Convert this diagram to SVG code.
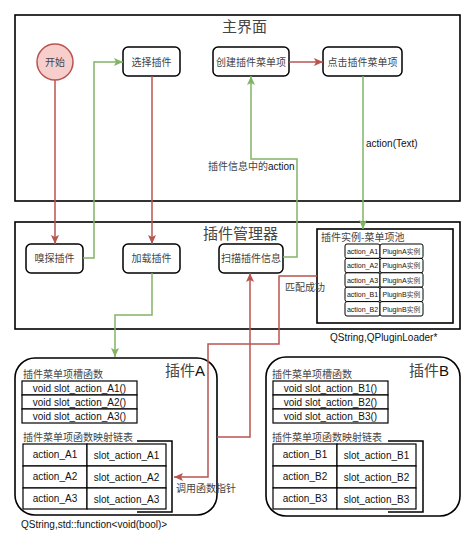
<svg xmlns="http://www.w3.org/2000/svg" width="474" height="545" viewBox="0 0 474 545">
<style>
.frame{fill:#fff;stroke:#000;stroke-width:1.6}
.node{fill:#fff;stroke:#000;stroke-width:1.5}
.cell{fill:#fff;stroke:#000;stroke-width:1.2}
.pcell{fill:#fff;stroke:#000;stroke-width:1}
.cn{font-family:"Noto Sans CJK SC","Noto Sans",sans-serif;fill:#444}
.lt{font-family:"Liberation Sans",Arial,"Noto Sans CJK SC",sans-serif;fill:#111}
.red{fill:none;stroke:#b85450;stroke-width:1.5}
.green{fill:none;stroke:#82b366;stroke-width:1.5}
</style>
<defs>
<marker id="ar" markerUnits="userSpaceOnUse" markerWidth="10" markerHeight="10" viewBox="0 0 10 10" refX="9" refY="5" orient="auto"><path d="M0,1 L9,5 L0,9 L2,5 Z" fill="#b85450"/></marker>
<marker id="ag" markerUnits="userSpaceOnUse" markerWidth="10" markerHeight="10" viewBox="0 0 10 10" refX="9" refY="5" orient="auto"><path d="M0,1 L9,5 L0,9 L2,5 Z" fill="#82b366"/></marker>
</defs>
<rect width="474" height="545" fill="#fff"/>

<g id="main-frame">
<rect class="frame" x="15" y="15" width="445" height="186"/>
<text class="cn" x="244.5" y="32" font-size="15" text-anchor="middle">主界面</text>
</g>
<g id="manager-frame">
<rect class="frame" x="15" y="222" width="445" height="107"/>
<text class="cn" x="240.5" y="239" font-size="15" text-anchor="middle">插件管理器</text>
</g>

<g id="start">
<circle cx="55" cy="62" r="18" fill="#f8cecc" stroke="#b85450" stroke-width="1.5"/>
<text class="cn" x="55" y="65.5" font-size="10" text-anchor="middle">开始</text>
</g>
<g id="select">
<rect class="node" x="123" y="47" width="57" height="29" rx="5"/>
<text class="cn" x="151.5" y="65.5" font-size="10" text-anchor="middle">选择插件</text>
</g>
<g id="create">
<rect class="node" x="213" y="47" width="76" height="29" rx="5"/>
<text class="cn" x="251" y="65.5" font-size="10" text-anchor="middle">创建插件菜单项</text>
</g>
<g id="click">
<rect class="node" x="323" y="47" width="79" height="29" rx="5"/>
<text class="cn" x="362.5" y="65.5" font-size="10" text-anchor="middle">点击插件菜单项</text>
</g>

<g id="sniff">
<rect class="node" x="26" y="244" width="57" height="29" rx="5"/>
<text class="cn" x="54.5" y="262" font-size="10" text-anchor="middle">嗅探插件</text>
</g>
<g id="load">
<rect class="node" x="123" y="244" width="57" height="29" rx="5"/>
<text class="cn" x="151.5" y="262" font-size="10" text-anchor="middle">加载插件</text>
</g>
<g id="scan">
<rect class="node" x="219" y="244" width="64" height="29" rx="5"/>
<text class="cn" x="251" y="262" font-size="10" text-anchor="middle">扫描插件信息</text>
</g>

<g id="pool">
<rect class="frame" x="317" y="229" width="136" height="94"/>
<text class="cn" x="321" y="241" font-size="10">插件实例-菜单项池</text>
<rect class="pcell" x="345" y="244" width="35" height="14.4" rx="2"/><rect class="pcell" x="380" y="244" width="43" height="14.4" rx="2"/>
<rect class="pcell" x="345" y="258.4" width="35" height="14.4" rx="2"/><rect class="pcell" x="380" y="258.4" width="43" height="14.4" rx="2"/>
<rect class="pcell" x="345" y="272.8" width="35" height="14.4" rx="2"/><rect class="pcell" x="380" y="272.8" width="43" height="14.4" rx="2"/>
<rect class="pcell" x="345" y="287.2" width="35" height="14.4" rx="2"/><rect class="pcell" x="380" y="287.2" width="43" height="14.4" rx="2"/>
<rect class="pcell" x="345" y="301.6" width="35" height="14.4" rx="2"/><rect class="pcell" x="380" y="301.6" width="43" height="14.4" rx="2"/>
<g class="lt" font-size="7" text-anchor="middle">
<text x="362.5" y="254">action_A1</text>
<text x="362.5" y="268.4">action_A2</text>
<text x="362.5" y="282.8">action_A3</text>
<text x="362.5" y="297.2">action_B1</text>
<text x="362.5" y="311.6">action_B2</text>
</g>
<g font-size="7">
<text x="382.5" y="254"><tspan class="lt">PluginA</tspan><tspan class="cn" fill="#999" font-size="6.8">实例</tspan></text>
<text x="382.5" y="268.4"><tspan class="lt">PluginA</tspan><tspan class="cn" fill="#999" font-size="6.8">实例</tspan></text>
<text x="382.5" y="282.8"><tspan class="lt">PluginA</tspan><tspan class="cn" fill="#999" font-size="6.8">实例</tspan></text>
<text x="382.5" y="297.2"><tspan class="lt">PluginB</tspan><tspan class="cn" fill="#999" font-size="6.8">实例</tspan></text>
<text x="382.5" y="311.6"><tspan class="lt">PluginB</tspan><tspan class="cn" fill="#999" font-size="6.8">实例</tspan></text>
</g>
</g>

<g id="pluginA">
<rect class="frame" x="15" y="358" width="202" height="157" rx="20"/>
<text x="165" y="376" font-size="15"><tspan class="cn" fill="#333">插件</tspan><tspan class="lt">A</tspan></text>
<text class="cn" x="23" y="378" font-size="10">插件菜单项槽函数</text>
<rect class="cell" x="22" y="381" width="115" height="14"/>
<rect class="cell" x="22" y="395" width="115" height="14"/>
<rect class="cell" x="22" y="409" width="115" height="14"/>
<g class="lt" font-size="10" text-anchor="middle">
<text x="79.5" y="392">void slot_action_A1()</text>
<text x="79.5" y="406">void slot_action_A2()</text>
<text x="79.5" y="420">void slot_action_A3()</text>
</g>
<text class="cn" x="23" y="441" font-size="10">插件菜单项函数映射链表</text>
<path d="M137,441 H172 V512 H137" fill="none" stroke="#000" stroke-width="1.5"/>
<rect class="cell" x="23" y="444" width="64" height="22"/><rect class="cell" x="87" y="444" width="79" height="22"/>
<rect class="cell" x="23" y="466" width="64" height="22"/><rect class="cell" x="87" y="466" width="79" height="22"/>
<rect class="cell" x="23" y="488" width="64" height="21"/><rect class="cell" x="87" y="488" width="79" height="21"/>
<g class="lt" font-size="10" text-anchor="middle">
<text x="55" y="458">action_A1</text><text x="126.5" y="459">slot_action_A1</text>
<text x="55" y="480">action_A2</text><text x="126.5" y="481">slot_action_A2</text>
<text x="55" y="502">action_A3</text><text x="126.5" y="503">slot_action_A3</text>
</g>
</g>

<g id="pluginB">
<rect class="frame" x="266" y="357" width="194" height="159" rx="20"/>
<text x="409" y="376" font-size="15"><tspan class="cn" fill="#333">插件</tspan><tspan class="lt">B</tspan></text>
<text class="cn" x="272" y="378" font-size="10">插件菜单项槽函数</text>
<rect class="cell" x="273" y="381" width="115" height="14"/>
<rect class="cell" x="273" y="395" width="115" height="14"/>
<rect class="cell" x="273" y="409" width="115" height="14"/>
<g class="lt" font-size="10" text-anchor="middle">
<text x="330.5" y="392">void slot_action_B1()</text>
<text x="330.5" y="406">void slot_action_B2()</text>
<text x="330.5" y="420">void slot_action_B3()</text>
</g>
<text class="cn" x="272" y="441" font-size="10">插件菜单项函数映射链表</text>
<path d="M388,441 H423 V512 H388" fill="none" stroke="#000" stroke-width="1.5"/>
<rect class="cell" x="273" y="444" width="64" height="22"/><rect class="cell" x="337" y="444" width="79" height="22"/>
<rect class="cell" x="273" y="466" width="64" height="22"/><rect class="cell" x="337" y="466" width="79" height="22"/>
<rect class="cell" x="273" y="488" width="64" height="21"/><rect class="cell" x="337" y="488" width="79" height="21"/>
<g class="lt" font-size="10" text-anchor="middle">
<text x="305" y="458">action_B1</text><text x="376.5" y="459">slot_action_B1</text>
<text x="305" y="480">action_B2</text><text x="376.5" y="481">slot_action_B2</text>
<text x="305" y="502">action_B3</text><text x="376.5" y="503">slot_action_B3</text>
</g>
</g>

<g id="connectors">
<path class="red" d="M55,80 V244" marker-end="url(#ar)"/>
<path class="green" d="M83,258 H94 V62 H123" marker-end="url(#ag)"/>
<path class="red" d="M152,76 V244" marker-end="url(#ar)"/>
<path class="green" d="M152,273 V315 H115 V357" marker-end="url(#ag)"/>
<path class="green" d="M283,257 H297 V159 H251 V76" marker-end="url(#ag)"/>
<path class="red" d="M289,62 H323" marker-end="url(#ar)"/>
<path class="green" d="M363,76 V229" marker-end="url(#ag)"/>
<path class="red" d="M217,437 H250 V273" marker-end="url(#ar)"/>
<path class="red" d="M317,276 H279 V344 H208 V477 H174" marker-end="url(#ar)"/>
</g>

<g id="labels">
<text x="208" y="170" font-size="10"><tspan class="cn">插件信息中的</tspan><tspan class="lt">action</tspan></text>
<text class="lt" x="366" y="147" font-size="10">action(Text)</text>
<text class="cn" x="285" y="291" font-size="10">匹配成功</text>
<text class="cn" x="176" y="492" font-size="10">调用函数指针</text>
<text class="lt" x="330" y="341" font-size="10">QString,QPluginLoader*</text>
<text class="lt" x="21" y="528" font-size="10">QString,std::function&lt;void(bool)&gt;</text>
</g>
</svg>
